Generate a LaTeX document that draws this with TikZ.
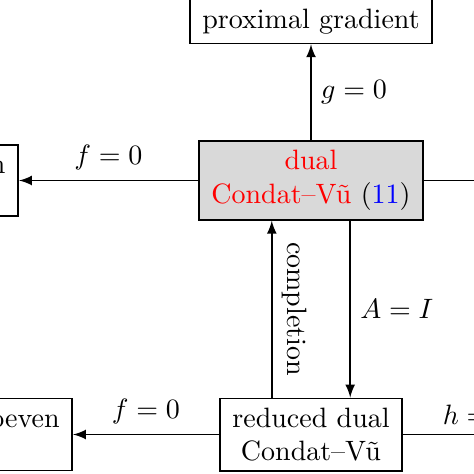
\documentclass[tikz,border=0pt]{standalone}
\usepackage{amsmath}
\usepackage{tikz}

\begin{document}
\begin{tikzpicture}[x=0.3571pt,y=-0.3571pt,>=latex,semithick,
    algbox/.style={draw, align=center, inner xsep=4.5pt, inner ysep=3.333pt}]
\useasboundingbox (0,0) rectangle (474,474);
\clip (0,0) rectangle (474,474);
%%   kw   (name)   (x, y)   {text}
    \node[algbox, fill=black!15] (dualcv) at (311,180.5) {\textcolor{red}{dual}\\\textcolor{red}{Condat--Vũ} (\textcolor{blue}{11})};
    \node[algbox] (prox) at (311,21.5) {proximal gradient};
    \node[algbox] (redcv) at (311,434.5) {reduced dual\\Condat--Vũ};
    \node[algbox, anchor=east] (dyin) at (19,180.5) {Davis--Yin\\\mbox{}};
    \node[algbox, anchor=east] (lover) at (73,434.5) {Loris--Verhoeven\\\mbox{}};
    \coordinate (dualright) at (603,180.5);
    \coordinate (redright) at (550,434.5);

    \draw[->] (dualcv) -- node[right] {$g=0$} (prox);
    \draw[->] (dualcv) -- node[above] {$f=0$} (dyin);
    \draw[->] (dualcv) -- (dualright);
    \draw[->] (redcv) -- node[above] {$f=0$} (lover);
    \draw[->] (redcv) -- node[above] {$h=0$} (redright);
    \draw[->] ([xshift=-14pt]redcv.north) -- node[anchor=south, rotate=-90] {completion} ([xshift=-14pt]dualcv.south);
    \draw[->] ([xshift=14pt]dualcv.south) -- node[right] {$A=I$} ([xshift=14pt]redcv.north);
\end{tikzpicture}
\end{document}
